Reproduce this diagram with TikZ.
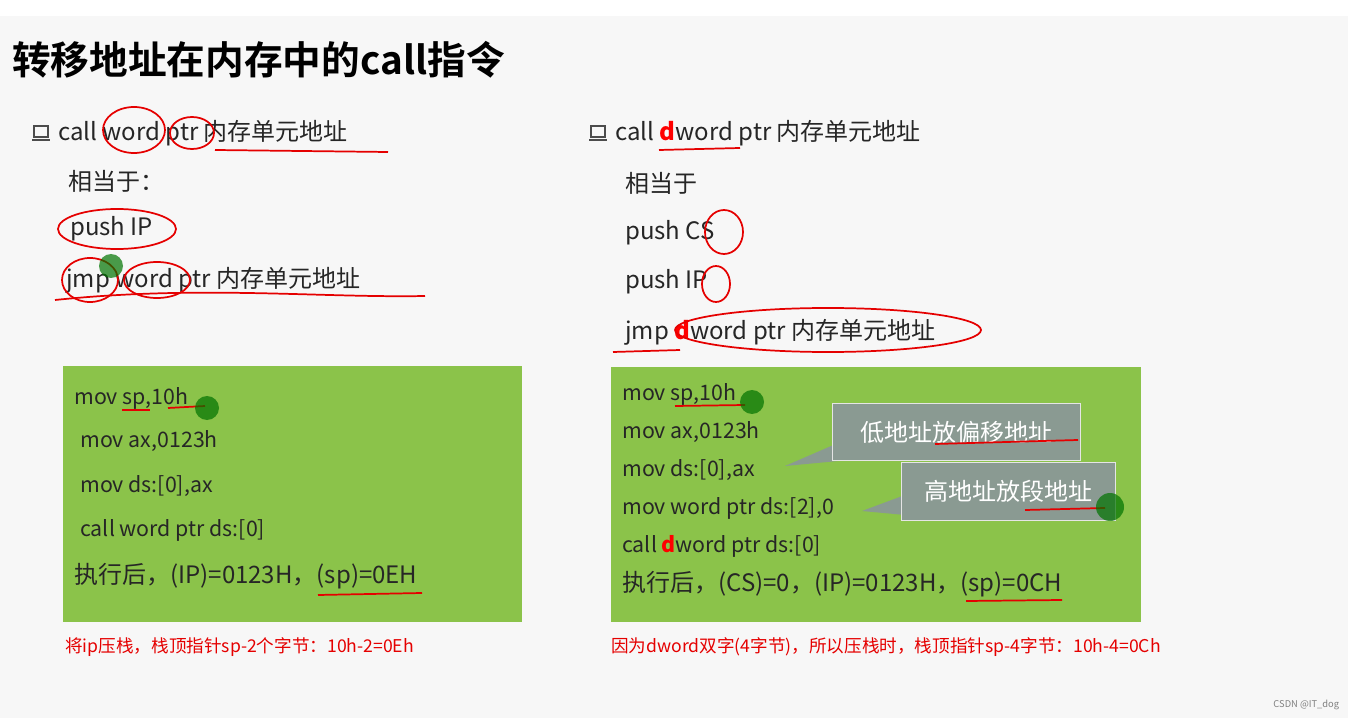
\documentclass[tikz,border=0pt]{standalone}
\usepackage{fontspec}
\setmainfont{Noto Sans CJK SC}
\newfontfamily\cjkb{Noto Sans CJK SC Bold}
\usetikzlibrary{shapes.geometric,calc}
\definecolor{boxgreen}{HTML}{8BC34A}
\definecolor{callout}{HTML}{8A9A92}
\definecolor{slidebg}{HTML}{F7F7F7}
\tikzset{
 t/.style={anchor=west,inner sep=0pt,font=\fontsize{18}{21}\selectfont,text=black!85},
 tb/.style={anchor=west,inner sep=0pt,font=\fontsize{16}{19}\selectfont,text=black!85},
 note/.style={anchor=west,inner sep=0pt,font=\fontsize{13.2}{15}\selectfont,text=red!90!black},
 gbox/.style={fill=boxgreen,draw=none},
 cbox/.style={fill=callout,draw=white!80!gray,line width=0.8pt,text=white,font=\fontsize{18}{21}\selectfont,inner sep=0pt},
 ink/.style={draw=red!90!black,line width=1.3pt},
 dot/.style={fill=green!45!black,opacity=0.7,draw=none}
}
\newcommand{\pcicon}[1]{\draw[black!70,line width=0.8pt] ($(#1)+(-9,-7)$) rectangle ($(#1)+(5,4)$); \draw[black!70,line width=1pt] ($(#1)+(-11,7)$) -- ($(#1)+(7,7)$);}
\begin{document}
\begin{tikzpicture}[x=0.75pt,y=-0.75pt]
\useasboundingbox (0,0) rectangle (1356,723);
\fill[white] (0,0) rectangle (1356,723);
\fill[slidebg] (0,16) rectangle (1348,718);
\node[anchor=west,inner sep=0pt,font=\cjkb\fontsize{29}{34}\selectfont] (title) at (12,60) {转移地址在内存中的call指令};
% left
\coordinate (i1) at (43,133); \pcicon{i1}
\node[t] (l1) at (58,133) {call word ptr 内存单元地址};
\node[t] (l2) at (68,181) {相当于：};
\node[t] (l3) at (70,229) {push IP};
\node[t] (l4) at (66,280) {jmp word ptr 内存单元地址};
\node[gbox,minimum width=459*0.75pt,minimum height=256*0.75pt,anchor=north west,inner sep=0pt] (bl) at (63,366) {};
\node[tb] (b1) at (74,398) {mov sp,10h};
\node[tb] (b2) at (80,441) {mov ax,0123h};
\node[tb] (b3) at (80,486) {mov ds:[0],ax};
\node[tb] (b4) at (80,530) {call word ptr ds:[0]};
\node[t] (b5) at (74,576) {执行后，(IP)=0123H，(sp)=0EH};
\node[note] (n1) at (65,647) {将ip压栈，栈顶指针sp-2个字节：10h-2=0Eh};
% right
\coordinate (i2) at (600,133); \pcicon{i2}
\node[t] (r1) at (615,133) {call \textcolor{red}{\bfseries d}word ptr 内存单元地址};
\node[t] (r2) at (625,183) {相当于};
\node[t] (r3) at (625,233) {push CS};
\node[t] (r4) at (625,282) {push IP};
\node[t] (r5) at (625,332) {jmp \textcolor{red}{\bfseries d}word ptr 内存单元地址};
\node[gbox,minimum width=530*0.75pt,minimum height=255*0.75pt,anchor=north west,inner sep=0pt] (br) at (611,367) {};
\node[tb] (c1) at (622,394) {mov sp,10h};
\node[tb] (c2) at (622,432) {mov ax,0123h};
\node[tb] (c3) at (622,470) {mov ds:[0],ax};
\node[tb] (c4) at (622,508) {mov word ptr ds:[2],0};
\node[tb] (c5) at (622,546) {call \textcolor{red}{\bfseries d}word ptr ds:[0]};
\node[t] (c6) at (622,584) {执行后，(CS)=0，(IP)=0123H，(sp)=0CH};
\node[note] (n2) at (611,647) {因为dword双字(4字节)，所以压栈时，栈顶指针sp-4字节：10h-4=0Ch};
% callouts
\coordinate (p1) at (785,466);
\coordinate (p2) at (862,511);
\fill[callout] (845,440) -- (p1) -- (870,458) -- cycle;
\node[cbox,minimum width=248*0.75pt,minimum height=57*0.75pt,anchor=north west] (k1) at (832,403) {低地址放偏移地址};
\fill[callout] (905,495) -- (p2) -- (905,515) -- cycle;
\node[cbox,minimum width=214*0.75pt,minimum height=58*0.75pt,anchor=north west] (k2) at (901,462) {高地址放段地址};
\node[anchor=south east,inner sep=2pt,font=\fontsize{7}{8}\selectfont,text=gray] (wm) at (1342,713) {CSDN @IT\_dog};
% red hand annotations (left)
\draw[ink] (134,130) ellipse (31 and 23);
\draw[ink] (192,133) ellipse (22 and 16);
\draw[ink] (215,150) -- (388,152);
\draw[ink] (117,229) ellipse (59 and 20);
\draw[ink] (90,280) ellipse (28 and 22);
\draw[ink] (157,280) ellipse (33 and 18);
\draw[ink] (55,300) .. controls (200,285) and (320,298) .. (425,296);
\draw[ink] (122,410) -- (150,410);
\draw[ink] (168,408) -- (205,406);
\draw[ink] (318,595) -- (422,593);
% red hand annotations (right)
\draw[ink] (659,150) -- (740,148);
\draw[ink] (724,232) ellipse (19 and 22);
\draw[ink] (716,284) ellipse (14 and 18);
\draw[ink] (828,330) ellipse (153 and 22);
\draw[ink] (613,352) -- (680,350);
\draw[ink] (675,406) -- (745,405);
\draw[ink] (935,444) -- (1078,440);
\draw[ink] (1025,510) -- (1105,508);
\draw[ink] (966,601) -- (1062,600);
% cursor dots
\fill[dot] (111,266) circle (12);
\fill[dot] (207,408) circle (12);
\fill[dot] (752,402) circle (12);
\fill[dot] (1110,507) circle (14);
\end{tikzpicture}
\end{document}
